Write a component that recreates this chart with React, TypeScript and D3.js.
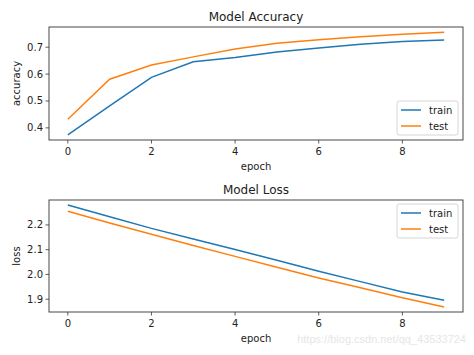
import React from "react";
import * as d3 from "d3";

const epochs = [0, 1, 2, 3, 4, 5, 6, 7, 8, 9];
const accTrain = [0.374, 0.482, 0.588, 0.646, 0.662, 0.682, 0.697, 0.711, 0.721, 0.727];
const accTest = [0.432, 0.581, 0.634, 0.664, 0.693, 0.715, 0.728, 0.739, 0.748, 0.756];
const lossTrain = [2.28, 2.233, 2.186, 2.143, 2.101, 2.057, 2.013, 1.971, 1.929, 1.896];
const lossTest = [2.255, 2.208, 2.162, 2.117, 2.073, 2.029, 1.986, 1.946, 1.906, 1.869];
const xTicks = [0, 2, 4, 6, 8];
const accTicks = [0.4, 0.5, 0.6, 0.7];
const lossTicks = [1.9, 2.0, 2.1, 2.2];
const seriesNames = ["train", "test"];
const colors = ["#1f77b4", "#ff7f0e"];

const FONT = "DejaVu Sans, sans-serif";

type PanelProps = {
  top: number;
  bottom: number;
  title: string;
  ylabel: string;
  train: number[];
  test: number[];
  yTicks: number[];
  fmt: (v: number) => string;
  legendPos: "lr" | "ur";
};

function Panel({ top, bottom, title, ylabel, train, test, yTicks, fmt, legendPos }: PanelProps) {
  const left = 49;
  const right = 463;
  const x = d3.scaleLinear().domain([-0.45, 9.45]).range([left, right]);
  const all = train.concat(test);
  const mn = d3.min(all)!;
  const mx = d3.max(all)!;
  const pad = (mx - mn) * 0.05;
  const y = d3.scaleLinear().domain([mn - pad, mx + pad]).range([bottom, top]);
  const line = d3
    .line<number>()
    .x((_, i) => x(epochs[i]))
    .y((d) => y(d));
  const lw = 61;
  const lh = 34;
  const lx = 397;
  const ly = legendPos === "lr" ? bottom - 5 - lh : top + 4;
  return (
    <g>
      <text x={(left + right) / 2} y={top - 6} textAnchor="middle" fontSize={12} fontFamily={FONT} fill="#222">
        {title}
      </text>
      {[train, test].map((s, k) => (
        <path key={k} d={line(s)!} fill="none" stroke={colors[k]} strokeWidth={1.5} />
      ))}
      <rect x={left} y={top} width={right - left} height={bottom - top} fill="none" stroke="#333" strokeWidth={0.9} />
      {xTicks.map((t) => (
        <g key={t}>
          <line x1={x(t)} x2={x(t)} y1={bottom} y2={bottom + 3.5} stroke="#333" strokeWidth={0.8} />
          <text x={x(t)} y={bottom + 15} textAnchor="middle" fontSize={10} fontFamily={FONT} fill="#222">
            {t}
          </text>
        </g>
      ))}
      {yTicks.map((t) => (
        <g key={t}>
          <line x1={left - 3.5} x2={left} y1={y(t)} y2={y(t)} stroke="#333" strokeWidth={0.8} />
          <text x={left - 6} y={y(t) + 3.5} textAnchor="end" fontSize={10} fontFamily={FONT} fill="#222">
            {fmt(t)}
          </text>
        </g>
      ))}
      <text x={(left + right) / 2} y={bottom + 30} textAnchor="middle" fontSize={10} fontFamily={FONT} fill="#222">
        epoch
      </text>
      <text
        transform={`translate(${16},${(top + bottom) / 2}) rotate(-90)`}
        textAnchor="middle"
        dy="0.35em"
        fontSize={10}
        fontFamily={FONT}
        fill="#222"
      >
        {ylabel}
      </text>
      <rect x={lx} y={ly} width={lw} height={lh} rx={2} fill="white" fillOpacity={0.8} stroke="#ccc" strokeWidth={0.8} />
      {seriesNames.map((n, k) => (
        <g key={n}>
          <line x1={lx + 4} x2={lx + 24} y1={ly + 9 + k * 16} y2={ly + 9 + k * 16} stroke={colors[k]} strokeWidth={1.5} />
          <text x={lx + 32} y={ly + 9 + k * 16 + 3.5} fontSize={10} fontFamily={FONT} fill="#222">
            {n}
          </text>
        </g>
      ))}
    </g>
  );
}

export default function App() {
  return (
    <svg width={474} height={355} style={{ position: "absolute", left: 0, top: 0, background: "white" }}>
      <rect width={474} height={355} fill="white" />
      <Panel
        top={27}
        bottom={140}
        title="Model Accuracy"
        ylabel="accuracy"
        train={accTrain}
        test={accTest}
        yTicks={accTicks}
        fmt={(v) => v.toFixed(1)}
        legendPos="lr"
      />
      <Panel
        top={200}
        bottom={312}
        title="Model Loss"
        ylabel="loss"
        train={lossTrain}
        test={lossTest}
        yTicks={lossTicks}
        fmt={(v) => v.toFixed(1)}
        legendPos="ur"
      />
      <text x={466} y={343} textAnchor="end" fontSize={11} fontFamily="Arial, Liberation Sans, sans-serif" fill="#e6e6e6">
        https://blog.csdn.net/qq_43533724
      </text>
    </svg>
  );
}
